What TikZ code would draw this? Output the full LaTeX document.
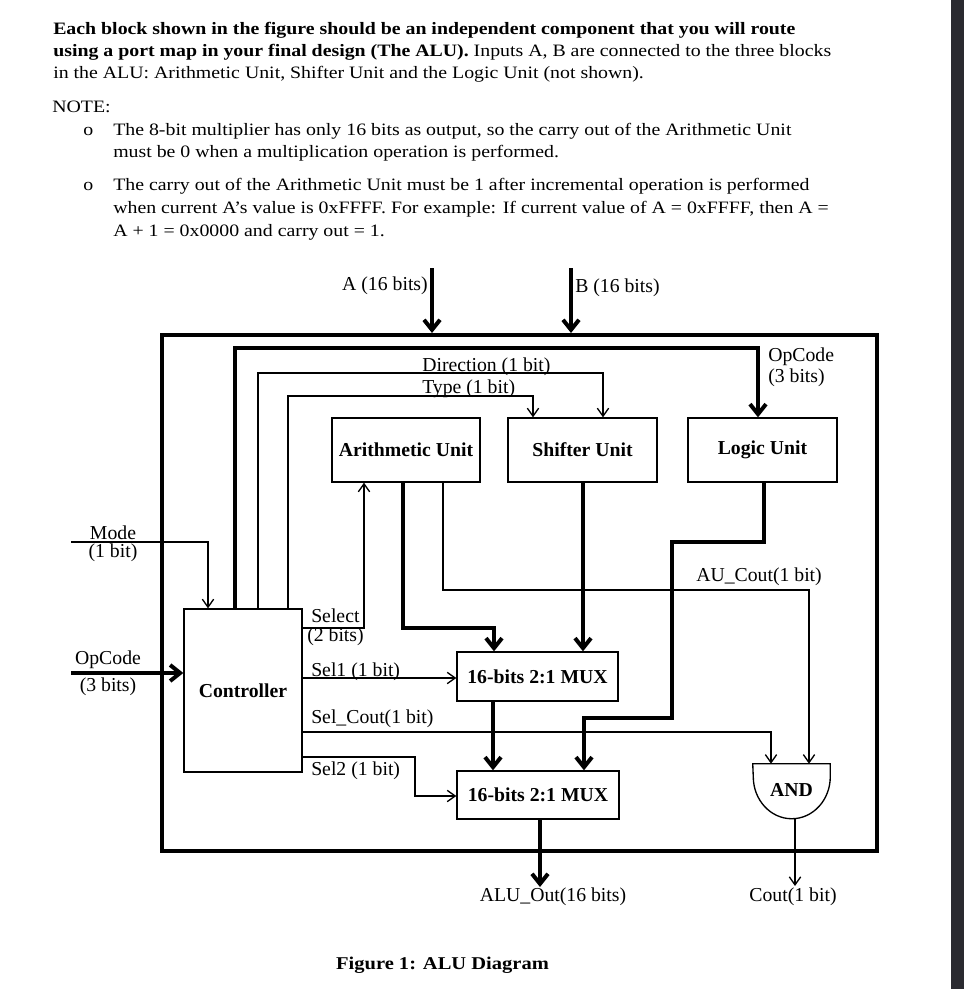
\documentclass[tikz,border=0pt]{standalone}
\usepackage{fontspec}
\setmainfont{Liberation Serif}
\newfontfamily\pal[FakeStretch=1.14]{Liberation Serif}
\usetikzlibrary{arrows.meta}
\definecolor{stripc}{RGB}{42,42,48}
\begin{document}
\begin{tikzpicture}[x=0.75pt,y=-0.75pt,
  thin/.style={line width=1pt},
  bus/.style={line width=3pt},
  tipthin/.style={-{Straight Barb[length=6pt,width=8.5pt]}},
  tipbus/.style={-{Straight Barb[length=7.5pt,width=12pt]}},
  blk/.style={draw,line width=1pt,inner sep=0pt,font=\bfseries\fontsize{14.8}{17}\selectfont},
  lbl/.style={inner sep=0pt,font=\fontsize{14.8}{17}\selectfont},
  para/.style={inner sep=0pt,anchor=base west,font=\pal\fontsize{13.05}{15}\selectfont}]
\fill[white] (0,0) rectangle (964,989);
\useasboundingbox (0,0) rectangle (964,989);
\fill[stripc] (951,0) rectangle (964,989);

% top text
\node[para] (t1) at (53,34) {\bfseries Each block shown in the figure should be an independent component that you will route};
\node[para] (t2) at (53,56) {\bfseries using a port map in your final design (The ALU).\mdseries{} Inputs A, B are connected to the three blocks};
\node[para] (t3) at (53,78) {in the ALU: Arithmetic Unit, Shifter Unit and the Logic Unit (not shown).};
\node[para] (t4) at (52,112) {NOTE:};
\node[para] (b1) at (83,135) {o};
\node[para] (t5) at (113,135) {The 8-bit multiplier has only 16 bits as output, so the carry out of the Arithmetic Unit};
\node[para] (t6) at (113,157) {must be 0 when a multiplication operation is performed.};
\node[para] (b2) at (83,190) {o};
\node[para] (t7) at (113,190) {The carry out of the Arithmetic Unit must be 1 after incremental operation is performed};
\node[para] (t8) at (113,213) {when current A’s value is 0xFFFF. For example: If current value of A = 0xFFFF, then A =};
\node[para] (t9) at (113,236) {A + 1 = 0x0000 and carry out = 1.};

% outer ALU box
\node[draw,bus,inner sep=0pt,minimum width=715*0.75pt,minimum height=516*0.75pt] (alu) at (519.5,593) {};

% blocks
\node[blk,minimum width=148*0.75pt,minimum height=64*0.75pt] (au) at (406,450) {Arithmetic Unit};
\node[blk,minimum width=149*0.75pt,minimum height=64*0.75pt] (su) at (582.5,450) {Shifter Unit};
\node[blk,minimum width=149*0.75pt,minimum height=64*0.75pt] (lu) at (762.5,450) {Logic Unit};
\node[blk,minimum width=118*0.75pt,minimum height=163*0.75pt] (ctrl) at (243,690.5) {Controller};
\node[blk,minimum width=161*0.75pt,minimum height=49*0.75pt] (mux1) at (537.5,676.5) {16-bits 2:1 MUX};
\node[blk,minimum width=162*0.75pt,minimum height=48*0.75pt] (mux2) at (538,795) {16-bits 2:1 MUX};
\node[inner sep=0pt,minimum width=77*0.75pt,minimum height=55*0.75pt,font=\bfseries\fontsize{14.8}{17}\selectfont] (andg) at (791.5,791.5) {\raisebox{2pt}{AND}};
\draw[thin] (andg.north west) -- (andg.north east) -- ++(0,13)
  arc[start angle=0,end angle=180,x radius=38.5,y radius=42] -- cycle;

% inputs A and B
\coordinate (ain) at (432,268);
\coordinate (bin) at (571,268);
\draw[bus,tipbus] (ain) -- (ain |- alu.north);
\draw[bus,tipbus] (bin) -- (bin |- alu.north);
\node[lbl,anchor=east] at (428,286) {A (16 bits)};
\node[lbl,anchor=west] at (575,288) {B (16 bits)};

% controller to units
\draw[bus,tipbus] (ctrl.north -| 235,0) |- (758,348) -- (lu.north -| 758,0);
\node[lbl,anchor=west] at (768,357) {OpCode};
\node[lbl,anchor=west] at (768,378) {(3 bits)};
\draw[thin,tipthin] (ctrl.north -| 258,0) |- (603,373) -- (su.north -| 603,0);
\draw[thin,tipthin] (ctrl.north -| 288,0) |- (533,396) -- (su.north -| 533,0);
\node[lbl,anchor=base west] at (422,371) {Direction (1 bit)};
\node[lbl,anchor=base west] at (422,393) {Type (1 bit)};

% Mode and OpCode inputs
\coordinate (modein) at (71,542);
\coordinate (opin) at (71,673);
\draw[thin,tipthin] (modein) -| (ctrl.north -| 208,0);
\node[lbl] at (113,533) {Mode};
\node[lbl] at (113,553) {(1 bit)};
\draw[bus,tipbus] (opin) -- (opin -| ctrl.west);
\node[lbl] at (108,660) {OpCode};
\node[lbl] at (108,687) {(3 bits)};

% controller outputs
\draw[thin,tipthin] (ctrl.east |- 0,628) -| (au.south -| 364,0);
\node[lbl,anchor=west] at (311,616) {Select};
\node[lbl,anchor=west] at (307,637) {(2 bits)};
\draw[thin,tipthin] (ctrl.east |- 0,678) -- (mux1.west |- 0,678);
\node[lbl,anchor=base west] at (311,676) {Sel1 (1 bit)};
\draw[thin,tipthin] (ctrl.east |- 0,732) -| (andg.north -| 771,0);
\node[lbl,anchor=west] at (311,719) {Sel\_Cout(1 bit)};
\draw[thin,tipthin] (ctrl.east |- 0,757) -| (415,796) -- (mux2.west |- 0,796);
\node[lbl,anchor=west] at (311,771) {Sel2 (1 bit)};

% unit outputs
\draw[bus,tipbus] (au.south -| 403,0) |- (494,628) -- (mux1.north -| 494,0);
\draw[thin,tipthin] (au.south -| 443,0) |- (809,590) -- (andg.north -| 809,0);
\node[lbl,anchor=west] at (696,577) {AU\_Cout(1 bit)};
\draw[bus,tipbus] (su.south -| 583,0) -- (mux1.north -| 583,0);
\draw[bus,tipbus] (lu.south -| 764,0) |- (672,542) |- (584,718) -- (mux2.north -| 584,0);
\draw[bus,tipbus] (mux1.south -| 493,0) -- (mux2.north -| 493,0);

% outputs
\coordinate (aluout) at (540,887);
\coordinate (coutc) at (795,886);
\draw[bus,tipbus] (mux2.south -| aluout) -- (aluout);
\draw[thin,tipthin] (andg.south -| coutc) -- (coutc);
\node[lbl] at (553,897) {ALU\_Out(16 bits)};
\node[lbl] at (793,897) {Cout(1 bit)};

% caption
\node[inner sep=0pt,font=\pal\bfseries\fontsize{13.5}{16}\selectfont] (cap) at (442.5,965) {Figure 1: ALU Diagram};
\end{tikzpicture}
\end{document}
